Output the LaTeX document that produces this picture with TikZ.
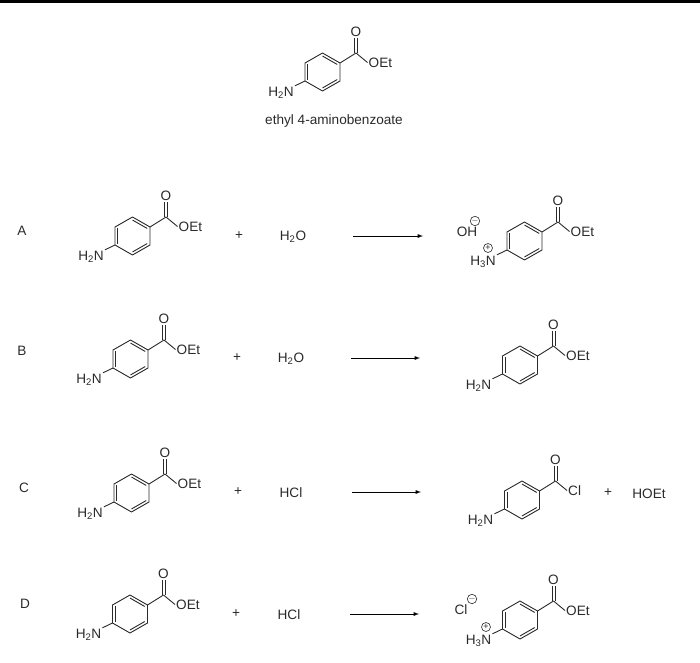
\documentclass[tikz,border=0pt]{standalone}
\usepackage{fontspec}
\setmainfont{Liberation Sans}
\usetikzlibrary{calc}
\definecolor{ink}{HTML}{2A2A2A}
\tikzset{
    txt/.style={inner sep=1pt,text=ink,font=\fontsize{13.6}{13.6}\selectfont},
    bond/.style={draw=ink,line width=0.9pt},
    charge/.style={circle,draw=ink,line width=0.6pt,inner sep=0pt,minimum size=9pt,text=ink,font=\fontsize{9}{9}\selectfont},
    rxn/.style={draw=black,line width=0.9pt,-latex}
}
% name, ring centre x, y, left group, right group
\newcommand{\esterring}[5]{
    \coordinate (#1c) at (#2,#3);
    \foreach \v/\a/\b in {t/0/-19,ur/17.5/-9,lr/17.5/9,b/0/19,ll/-17.5/9,ul/-17.5/-9}
        \coordinate (#1\v) at ($(#1c)+(\a,\b)$);
    \coordinate (#1co) at ($(#1c)+(33.5,-19)$);
    \node[txt] (#1o) at ($(#1c)+(33.5,-40)$) {O};
    \node[txt] (#1n) at ($(#1c)+(-41.5,20.5)$) {#4};
    \node[txt,anchor=west] (#1r) at ($(#1c)+(45,-9.5)$) {#5};
    \draw[bond,line join=round] (#1t) -- (#1ur) -- (#1lr) -- (#1b) -- (#1ll) -- (#1ul) -- cycle;
    \draw[bond] ($(#1t)!0.16!(#1c)$) -- ($(#1ur)!0.16!(#1c)$);
    \draw[bond] ($(#1lr)!0.16!(#1c)$) -- ($(#1b)!0.16!(#1c)$);
    \draw[bond] ($(#1ll)!0.16!(#1c)$) -- ($(#1ul)!0.16!(#1c)$);
    \draw[bond] (#1ur) -- (#1co);
    \draw[bond] (#1co) -- (#1r.west);
    \draw[bond] (#1ll) -- (#1n);
    \draw[bond] ($(#1co)+(-1.5,0)$) -- ($(#1o.south)+(-1.5,0)$);
    \draw[bond] ($(#1co)+(1.5,0)$) -- ($(#1o.south)+(1.5,0)$);
}
\begin{document}
\begin{tikzpicture}[x=1pt,y=-1pt]
    \useasboundingbox (0,0) rectangle (700,662);
    \fill[black] (0,0) rectangle (700,3);

    \esterring{top}{322.5}{72}{H\textsubscript{2}N}{OEt}
    \node[txt] (title) at (334,121) {ethyl 4-aminobenzoate};

    % reactants and row labels
    \foreach \n/\x/\y/\lx/\ly in {A/132.5/236/22/231,B/130.5/359/22/351,C/131.5/493/24/488,D/130/614/25/604}{
        \node[txt] (lab\n) at (\lx,\ly) {\n};
        \esterring{sm\n}{\x}{\y}{H\textsubscript{2}N}{OEt}
    }

    % plus signs and reagents
    \foreach \n/\x/\y/\rx/\t in {A/239/236/293/H\textsubscript{2}O,B/237/358/291/H\textsubscript{2}O,C/238/492/291/HCl,D/236/614/289/HCl}{
        \node[txt] (plus\n) at (\x,\y) {+};
        \node[txt] (reag\n) at (\rx,\y+1) {\t};
    }

    % arrows
    \foreach \n/\a/\b/\y in {A/353/423/236,B/351/420/358,C/352/421/492,D/350/419/614}{
        \coordinate (from\n) at (\a,\y);
        \coordinate (to\n) at (\b,\y);
        \draw[rxn] (from\n) -- (to\n);
    }

    % products
    \esterring{prA}{524.5}{241}{H\textsubscript{3}N}{OEt}
    \esterring{prB}{520}{365}{H\textsubscript{2}N}{OEt}
    \esterring{prC}{522}{500}{H\textsubscript{2}N}{Cl}
    \esterring{prD}{520}{620}{H\textsubscript{3}N}{OEt}

    \node[txt] (oh) at (467,232) {OH};
    \node[charge] (ohm) at (475,221) {$-$};
    \node[charge] (nplusA) at (488,248) {+};
    \node[txt] (cl) at (461,610) {Cl};
    \node[charge] (clm) at (472,599) {$-$};
    \node[charge] (nplusD) at (486,627) {+};
    \node[txt] (plusE) at (608,493) {+};
    \node[txt] (hoet) at (649,494) {HOEt};
\end{tikzpicture}
\end{document}
